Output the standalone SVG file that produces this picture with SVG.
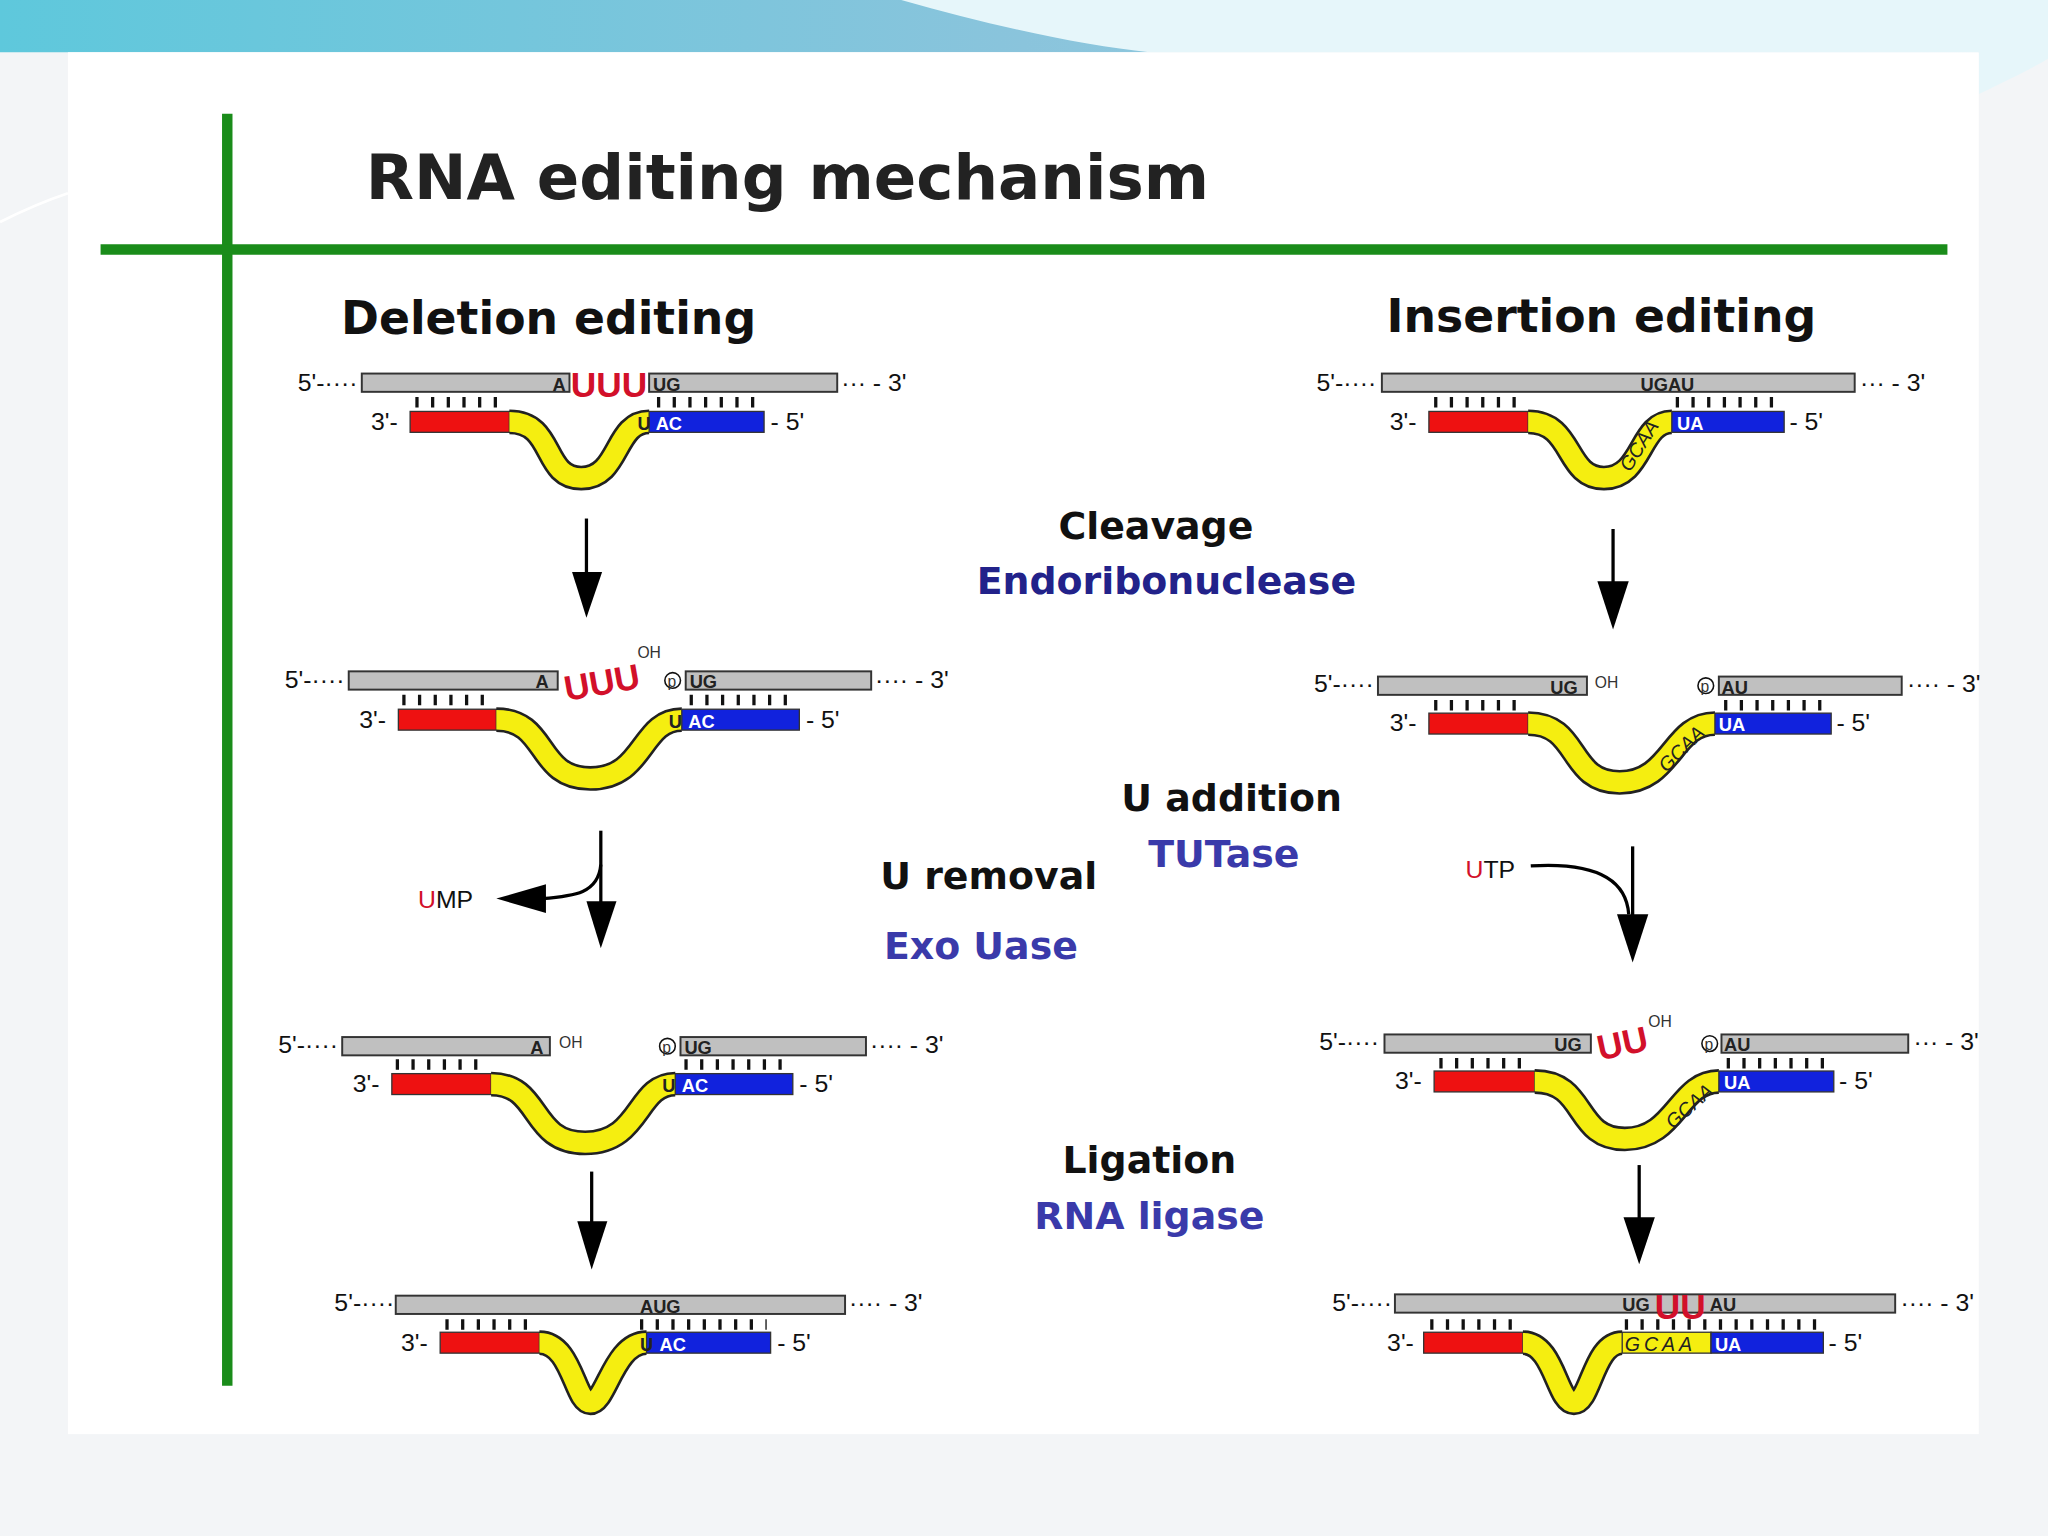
<svg xmlns="http://www.w3.org/2000/svg" width="2048" height="1536" viewBox="0 0 2048 1536">
<defs>
<linearGradient id="sky" x1="0" y1="0" x2="1" y2="0"><stop offset="0" stop-color="#5ec8dc"/><stop offset="0.5" stop-color="#8ac4dc"/><stop offset="1" stop-color="#9ed8e4"/></linearGradient>
<style>
.bar{fill:#c0c0c0;stroke:#333;stroke-width:1.5}
.red{fill:#ee1111;stroke:#333;stroke-width:1}
.blue{fill:#1122dd;stroke:#333;stroke-width:1}
.yo{fill:none;stroke:#222;stroke-width:19;stroke-linecap:butt}
.yi{fill:none;stroke:#f5ee10;stroke-width:15;stroke-linecap:butt}
.tk{stroke:#111;stroke-width:8;stroke-dasharray:2.5 9.5;fill:none}
.end{font-family:"Liberation Sans",Arial,sans-serif;font-size:19px;fill:#111}
.in{font-family:"Liberation Sans",Arial,sans-serif;font-size:14px;font-weight:bold;fill:#222}
.wt{font-family:"Liberation Sans",Arial,sans-serif;font-size:14px;font-weight:bold;fill:#fff}
.uu{font-family:"Liberation Sans",Arial,sans-serif;font-size:27px;font-weight:bold;fill:#d2102a}
.oh{font-family:"Liberation Sans",Arial,sans-serif;font-size:12px;fill:#333}
.g{font-family:"Liberation Sans",Arial,sans-serif;font-size:15px;font-style:italic;fill:#222}
.lab{font-family:"DejaVu Sans",Verdana,sans-serif;font-size:29px;font-weight:bold;fill:#111}
.enz{font-family:"DejaVu Sans",Verdana,sans-serif;font-size:29px;font-weight:bold;fill:#3a3aaa}
.hd{font-family:"DejaVu Sans",Verdana,sans-serif;font-size:35px;font-weight:bold;fill:#111}
.ar{stroke:#000;stroke-width:2.5;fill:none}
.p{fill:#fff;stroke:#111;stroke-width:1.2}
</style>
</defs>
<rect width="2048" height="1536" fill="#f3f5f7"/>
<g transform="scale(1.30612)">
<rect x="0" y="0" width="1568" height="40" fill="url(#sky)"/>
<path d="M690,0 C760,20 830,35 880,40 L1515,40 L1515,72 C1540,60 1560,50 1568,45 L1568,0 Z" fill="#e6f6fa"/>
<path d="M0,170 C20,160 40,152 52,148" stroke="#ffffff" stroke-width="2" fill="none"/>
<rect x="52" y="40" width="1463" height="1058" fill="#ffffff"/>
<line x1="174" y1="87" x2="174" y2="1061" stroke="#1a8c1a" stroke-width="8"/>
<line x1="77" y1="191" x2="1491" y2="191" stroke="#1a8c1a" stroke-width="8"/>
<text x="280" y="152" font-family="DejaVu Sans,Verdana,sans-serif" font-size="48" font-weight="bold" fill="#222">RNA editing mechanism</text>
<text x="420" y="256" class="hd" text-anchor="middle">Deletion editing</text>
<text x="1226" y="254" class="hd" text-anchor="middle">Insertion editing</text>

<g id="labels">
<text x="885" y="413" class="lab" text-anchor="middle">Cleavage</text>
<text x="893" y="455" class="enz" text-anchor="middle" style="fill:#22228a">Endoribonuclease</text>
<text x="943" y="621" class="lab" text-anchor="middle">U addition</text>
<text x="937" y="664" class="enz" text-anchor="middle">TUTase</text>
<text x="757" y="681" class="lab" text-anchor="middle">U removal</text>
<text x="751" y="734" class="enz" text-anchor="middle">Exo Uase</text>
<text x="880" y="898" class="lab" text-anchor="middle">Ligation</text>
<text x="880" y="941" class="enz" text-anchor="middle">RNA ligase</text>
</g>

<g id="d1">
<text x="228" y="299" class="end">5'-····</text>
<rect x="277" y="286" width="159" height="14" class="bar"/>
<rect x="497" y="286" width="144" height="14" class="bar"/>
<text x="423" y="299" class="in">A</text>
<text x="437" y="304" class="uu">UUU</text>
<text x="500" y="299" class="in">UG</text>
<text x="644" y="299" class="end">··· - 3'</text>
<line x1="318" y1="308" x2="388" y2="308" class="tk"/>
<line x1="503" y1="308" x2="583" y2="308" class="tk"/>
<text x="284" y="329" class="end">3'-</text>
<rect x="314" y="315" width="76" height="16" class="red"/>
<path d="M390,323 C425,323 415,366 445,366 S470,323 497,323" class="yo"/>
<path d="M390,323 C425,323 415,366 445,366 S470,323 497,323" class="yi"/>
<rect x="497" y="315" width="88" height="16" class="blue"/>
<text x="488" y="329" class="in">U</text>
<text x="502" y="329" class="wt">AC</text>
<text x="590" y="329" class="end">- 5'</text>
</g>

<g id="d2">
<text x="218" y="527" class="end">5'-····</text>
<rect x="267" y="514" width="160" height="14" class="bar"/>
<text x="410" y="527" class="in">A</text>
<text x="432" y="532" class="uu" transform="rotate(-10 460 525)">UUU</text>
<text x="488" y="504" class="oh">OH</text>
<circle cx="515" cy="521" r="6" class="p"/><text x="511" y="526" class="oh">p</text>
<rect x="525" y="514" width="142" height="14" class="bar"/>
<text x="528" y="527" class="in">UG</text>
<text x="670" y="527" class="end">···· - 3'</text>
<line x1="308" y1="536" x2="378" y2="536" class="tk"/>
<line x1="528" y1="536" x2="610" y2="536" class="tk"/>
<text x="275" y="557" class="end">3'-</text>
<rect x="305" y="543" width="75" height="16" class="red"/>
<path d="M380,551 C420,551 410,596 452,596 S490,551 522,551" class="yo"/>
<path d="M380,551 C420,551 410,596 452,596 S490,551 522,551" class="yi"/>
<rect x="522" y="543" width="90" height="16" class="blue"/>
<text x="512" y="557" class="in">U</text>
<text x="527" y="557" class="wt">AC</text>
<text x="617" y="557" class="end">- 5'</text>
</g>

<g id="d3">
<text x="213" y="806" class="end">5'-····</text>
<rect x="262" y="794" width="159" height="14" class="bar"/>
<text x="406" y="807" class="in">A</text>
<text x="428" y="802" class="oh">OH</text>
<circle cx="511" cy="801" r="6" class="p"/><text x="507" y="806" class="oh">p</text>
<rect x="521" y="794" width="142" height="14" class="bar"/>
<text x="524" y="807" class="in">UG</text>
<text x="666" y="806" class="end">···· - 3'</text>
<line x1="303" y1="815" x2="373" y2="815" class="tk"/>
<line x1="524" y1="815" x2="605" y2="815" class="tk"/>
<text x="270" y="836" class="end">3'-</text>
<rect x="300" y="822" width="76" height="16" class="red"/>
<path d="M376,830 C415,830 405,875 448,875 S487,830 517,830" class="yo"/>
<path d="M376,830 C415,830 405,875 448,875 S487,830 517,830" class="yi"/>
<rect x="517" y="822" width="90" height="16" class="blue"/>
<text x="507" y="836" class="in">U</text>
<text x="522" y="836" class="wt">AC</text>
<text x="612" y="836" class="end">- 5'</text>
</g>

<g id="d4">
<text x="256" y="1004" class="end">5'-····</text>
<rect x="303" y="992" width="344" height="14" class="bar"/>
<text x="490" y="1005" class="in">AUG</text>
<text x="650" y="1004" class="end">···· - 3'</text>
<line x1="341" y1="1014" x2="408" y2="1014" class="tk"/>
<line x1="490" y1="1014" x2="587" y2="1014" class="tk"/>
<text x="307" y="1034" class="end">3'-</text>
<rect x="337" y="1020" width="76" height="16" class="red"/>
<path d="M413,1028 C438,1028 440,1074 452,1074 S470,1028 495,1028" class="yo"/>
<path d="M413,1028 C438,1028 440,1074 452,1074 S470,1028 495,1028" class="yi"/>
<rect x="495" y="1020" width="95" height="16" class="blue"/>
<text x="490" y="1034" class="in">U</text>
<text x="505" y="1034" class="wt">AC</text>
<text x="595" y="1034" class="end">- 5'</text>
</g>

<g id="i1">
<text x="1008" y="299" class="end">5'-····</text>
<rect x="1058" y="286" width="362" height="14" class="bar"/>
<text x="1256" y="299" class="in">UGAU</text>
<text x="1424" y="299" class="end">··· - 3'</text>
<line x1="1098" y1="308" x2="1168" y2="308" class="tk"/>
<line x1="1283" y1="308" x2="1365" y2="308" class="tk"/>
<text x="1064" y="329" class="end">3'-</text>
<rect x="1094" y="315" width="76" height="16" class="red"/>
<path d="M1170,323 C1205,323 1198,366 1228,366 S1255,323 1280,323" class="yo"/>
<path d="M1170,323 C1205,323 1198,366 1228,366 S1255,323 1280,323" class="yi"/>
<text x="1248" y="362" class="g" transform="rotate(-58 1248 362)">GCAA</text>
<rect x="1280" y="315" width="86" height="16" class="blue"/>
<text x="1284" y="329" class="wt">UA</text>
<text x="1370" y="329" class="end">- 5'</text>
</g>

<g id="i2">
<text x="1006" y="530" class="end">5'-····</text>
<rect x="1055" y="518" width="160" height="14" class="bar"/>
<text x="1187" y="531" class="in">UG</text>
<text x="1221" y="527" class="oh">OH</text>
<circle cx="1306" cy="525" r="6" class="p"/><text x="1302" y="530" class="oh">p</text>
<rect x="1316" y="518" width="140" height="14" class="bar"/>
<text x="1318" y="531" class="in">AU</text>
<text x="1460" y="530" class="end">···· - 3'</text>
<line x1="1098" y1="540" x2="1168" y2="540" class="tk"/>
<line x1="1320" y1="540" x2="1400" y2="540" class="tk"/>
<text x="1064" y="560" class="end">3'-</text>
<rect x="1094" y="546" width="76" height="16" class="red"/>
<path d="M1170,554 C1210,554 1200,599 1240,599 S1280,554 1313,554" class="yo"/>
<path d="M1170,554 C1210,554 1200,599 1240,599 S1280,554 1313,554" class="yi"/>
<text x="1276" y="592" class="g" transform="rotate(-45 1276 592)">GCAA</text>
<rect x="1313" y="546" width="89" height="16" class="blue"/>
<text x="1316" y="560" class="wt">UA</text>
<text x="1406" y="560" class="end">- 5'</text>
</g>

<g id="i3">
<text x="1010" y="804" class="end">5'-····</text>
<rect x="1060" y="792" width="158" height="14" class="bar"/>
<text x="1190" y="805" class="in">UG</text>
<text x="1223" y="808" class="uu" transform="rotate(-12 1243 800)">UU</text>
<text x="1262" y="786" class="oh">OH</text>
<circle cx="1309" cy="799" r="6" class="p"/><text x="1305" y="804" class="oh">p</text>
<rect x="1318" y="792" width="143" height="14" class="bar"/>
<text x="1320" y="805" class="in">AU</text>
<text x="1465" y="804" class="end">··· - 3'</text>
<line x1="1102" y1="814" x2="1170" y2="814" class="tk"/>
<line x1="1322" y1="814" x2="1400" y2="814" class="tk"/>
<text x="1068" y="834" class="end">3'-</text>
<rect x="1098" y="820" width="77" height="16" class="red"/>
<path d="M1175,828 C1215,828 1205,872 1244,872 S1285,828 1316,828" class="yo"/>
<path d="M1175,828 C1215,828 1205,872 1244,872 S1285,828 1316,828" class="yi"/>
<text x="1281" y="865" class="g" transform="rotate(-42 1281 865)">GCAA</text>
<rect x="1316" y="820" width="88" height="16" class="blue"/>
<text x="1320" y="834" class="wt">UA</text>
<text x="1408" y="834" class="end">- 5'</text>
</g>

<g id="i4">
<text x="1020" y="1004" class="end">5'-····</text>
<rect x="1068" y="991" width="383" height="14" class="bar"/>
<text x="1242" y="1004" class="in">UG</text>
<text x="1267" y="1010" class="uu" font-size="30">UU</text>
<text x="1309" y="1004" class="in">AU</text>
<text x="1455" y="1004" class="end">···· - 3'</text>
<line x1="1095" y1="1014" x2="1162" y2="1014" class="tk"/>
<line x1="1244" y1="1014" x2="1395" y2="1014" class="tk"/>
<text x="1062" y="1034" class="end">3'-</text>
<rect x="1090" y="1020" width="76" height="16" class="red"/>
<path d="M1166,1028 C1190,1028 1192,1074 1205,1074 S1220,1028 1242,1028" class="yo"/>
<path d="M1166,1028 C1190,1028 1192,1074 1205,1074 S1220,1028 1242,1028" class="yi"/>
<rect x="1242" y="1020" width="68" height="16" fill="#f5ee10" stroke="#333" stroke-width="1"/>
<text x="1244" y="1034" class="g" font-style="normal" letter-spacing="3">GCAA</text>
<rect x="1310" y="1020" width="86" height="16" class="blue"/>
<text x="1313" y="1034" class="wt">UA</text>
<text x="1400" y="1034" class="end">- 5'</text>
</g>

<g id="connectors">
<line x1="449" y1="397" x2="449" y2="440" class="ar"/>
<polygon points="438,438 461,438 449,473"/>
<line x1="460" y1="636" x2="460" y2="692" class="ar"/>
<polygon points="449,690 472,690 460,726"/>
<path d="M460,662 C458,684 440,686 415,688" class="ar"/>
<polygon points="380,688 418,677 418,699"/>
<text x="320" y="695" class="end"><tspan fill="#d2102a">U</tspan>MP</text>
<line x1="453" y1="897" x2="453" y2="937" class="ar"/>
<polygon points="442,935 465,935 453,972"/>
<line x1="1235" y1="405" x2="1235" y2="447" class="ar"/>
<polygon points="1223,445 1247,445 1235,482"/>
<line x1="1250" y1="648" x2="1250" y2="702" class="ar"/>
<polygon points="1238,700 1262,700 1250,737"/>
<path d="M1172,663 C1220,660 1245,672 1247,700" class="ar"/>
<text x="1122" y="672" class="end"><tspan fill="#d2102a">U</tspan>TP</text>
<line x1="1255" y1="892" x2="1255" y2="934" class="ar"/>
<polygon points="1243,932 1267,932 1255,968"/>
</g>
</g>
</svg>
